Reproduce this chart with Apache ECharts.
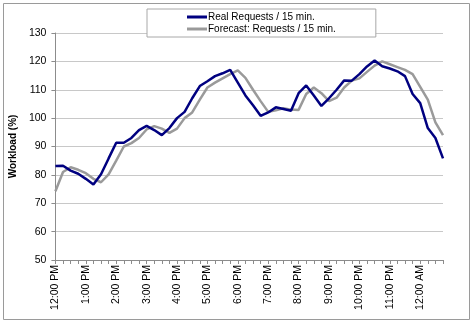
<!DOCTYPE html>
<html>
<head>
<meta charset="utf-8">
<script src="https://cdn.jsdelivr.net/npm/echarts@6/dist/echarts.min.js"></script>
<style>
  html, body { margin: 0; padding: 0; background: #fff; }
  #chart { width: 474px; height: 324px; }
</style>
</head>
<body>
<div id="chart"></div>
<script>
// 15-minute time slots from 12:00 PM to 12:45 AM
const timeSlots = [
  '12:00 PM','12:15 PM','12:30 PM','12:45 PM',
  '1:00 PM','1:15 PM','1:30 PM','1:45 PM',
  '2:00 PM','2:15 PM','2:30 PM','2:45 PM',
  '3:00 PM','3:15 PM','3:30 PM','3:45 PM',
  '4:00 PM','4:15 PM','4:30 PM','4:45 PM',
  '5:00 PM','5:15 PM','5:30 PM','5:45 PM',
  '6:00 PM','6:15 PM','6:30 PM','6:45 PM',
  '7:00 PM','7:15 PM','7:30 PM','7:45 PM',
  '8:00 PM','8:15 PM','8:30 PM','8:45 PM',
  '9:00 PM','9:15 PM','9:30 PM','9:45 PM',
  '10:00 PM','10:15 PM','10:30 PM','10:45 PM',
  '11:00 PM','11:15 PM','11:30 PM','11:45 PM',
  '12:00 AM','12:15 AM','12:30 AM','12:45 AM'
];

// Measured workload (%)
const realRequests = [
  83.1, 83.2, 81.5, 80.4, 78.6, 76.6, 80.2, 85.8,
  91.3, 91.3, 93.0, 95.8, 97.3, 95.8, 94.0, 96.5,
  100.0, 102.2, 107.0, 111.3, 113.0, 114.8, 115.8, 117.0,
  112.5, 108.0, 104.5, 100.8, 102.0, 103.8, 103.2, 102.6,
  108.8, 111.5, 108.0, 104.3, 107.0, 110.0, 113.3, 113.2,
  115.5, 118.2, 120.3, 118.3, 117.5, 116.5, 114.8, 108.5,
  105.3, 96.5, 93.0, 85.8
];

// Forecast workload (%)
const forecastRequests = [
  74.2, 81.0, 82.7, 81.8, 80.6, 78.6, 77.4, 80.2,
  85.0, 90.0, 91.2, 93.0, 96.0, 97.2, 96.3, 94.8,
  96.3, 100.0, 102.0, 106.5, 110.8, 112.5, 114.0, 115.5,
  116.8, 114.2, 110.0, 106.0, 102.2, 102.8, 103.5, 103.0,
  102.9, 108.5, 110.8, 108.8, 106.0, 107.2, 110.8, 113.2,
  114.0, 116.3, 118.5, 120.0, 119.0, 118.0, 117.0, 115.5,
  111.0, 106.5, 98.5, 94.0
];

const yTicks = { min: 50, max: 130, step: 10 };

const chart = echarts.init(document.getElementById('chart'), null, { renderer: 'canvas' });
const fontFamily = '"Liberation Sans", Arial, sans-serif';

chart.setOption({
  animation: false,
  backgroundColor: '#ffffff',
  textStyle: { fontFamily: fontFamily },
  graphic: [{
    type: 'rect',
    shape: { x: 3.5, y: 3.5, width: 466, height: 316 },
    style: { fill: 'none', stroke: '#9a9a9a', lineWidth: 1 },
    z: -10
  }],
  grid: { left: 53, right: 31, top: 33, bottom: 64 },
  legend: {
    orient: 'vertical',
    left: 147,
    top: 9,
    padding: [2, 40, 2, 40],
    itemGap: 0,
    itemWidth: 20,
    itemHeight: 3,
    icon: 'rect',
    backgroundColor: '#ffffff',
    borderColor: '#a8a8a8',
    borderWidth: 1,
    textStyle: { fontSize: 10, lineHeight: 12, color: '#000', fontFamily: fontFamily, padding: [0, 0, 0, -4] },
    z: 10
  },
  xAxis: {
    type: 'category',
    data: timeSlots,
    boundaryGap: false,
    axisLine: { lineStyle: { color: '#8c8c8c', width: 1 } },
    axisTick: { interval: 0, length: 4, lineStyle: { color: '#8c8c8c' } },
    axisLabel: {
      interval: 3,
      rotate: 90,
      margin: 5,
      fontSize: 10.5,
      color: '#000',
      fontFamily: fontFamily
    },
    splitLine: { show: false }
  },
  yAxis: {
    type: 'value',
    min: yTicks.min,
    max: yTicks.max,
    interval: yTicks.step,
    name: 'Workload (%)',
    nameLocation: 'middle',
    nameGap: 25,
    nameTextStyle: { fontSize: 10, fontWeight: 'bold', color: '#000', fontFamily: fontFamily },
    axisLine: { show: true, lineStyle: { color: '#8c8c8c', width: 1 } },
    axisTick: { show: true, length: 4, lineStyle: { color: '#8c8c8c' } },
    axisLabel: { fontSize: 10.5, color: '#000', margin: 9, fontFamily: fontFamily },
    splitLine: { lineStyle: { color: '#c8c8c8', width: 1 } }
  },
  series: [
    {
      name: 'Real Requests / 15 min.',
      type: 'line',
      data: realRequests,
      symbol: 'none',
      z: 3,
      lineStyle: { color: '#000080', width: 2.5 },
      itemStyle: { color: '#000080' }
    },
    {
      name: 'Forecast: Requests / 15 min.',
      type: 'line',
      data: forecastRequests,
      symbol: 'none',
      z: 2,
      lineStyle: { color: '#9a9a9a', width: 2.5 },
      itemStyle: { color: '#9a9a9a' }
    }
  ]
});
</script>
</body>
</html>
